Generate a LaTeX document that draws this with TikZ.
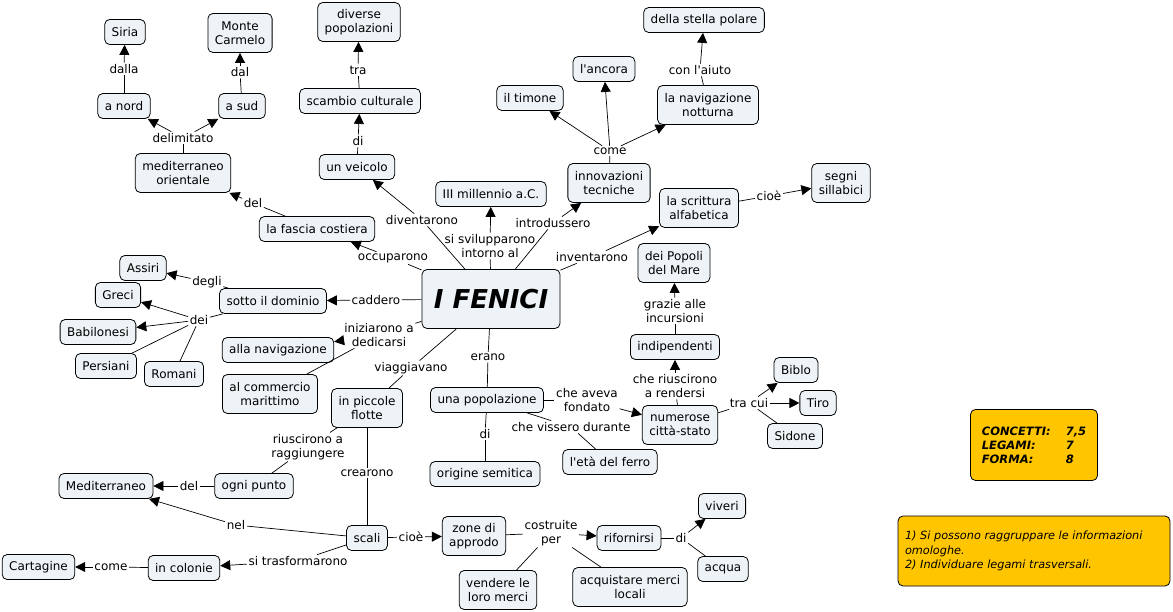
\documentclass[tikz,border=0pt]{standalone}
\usepackage{fontspec}
\setmainfont{DejaVu Sans}
\usetikzlibrary{arrows.meta}
\definecolor{cfill}{RGB}{237,243,246}
\definecolor{orng}{RGB}{255,198,0}
\newcommand{\apos}{\textquotesingle}
\begin{document}
\begin{tikzpicture}[x=1pt,y=-1pt,
 concept/.style={draw, line width=0.8pt, rounded corners=5pt, fill=cfill, align=center,
   font=\fontsize{12}{14}\selectfont, inner xsep=7pt, inner ysep=2pt, minimum height=25pt},
 two/.style={minimum height=39pt},
 lbl/.style={align=center, font=\fontsize{12}{14}\selectfont, inner sep=1.5pt},
 link/.style={line width=0.7pt},
 arr/.style={link, -{Triangle[length=10pt,width=10pt]}}]
\useasboundingbox (0,0) rectangle (1173,612);
% concepts
\node[concept, minimum width=138pt, minimum height=59pt, font=\fontsize{26}{28}\selectfont\bfseries\itshape] (fen) at (491,299) {I FENICI};
\node[concept] (siria) at (125,32) {Siria};
\node[concept,two] (monte) at (240,33) {Monte\\Carmelo};
\node[concept,two] (divpop) at (359,22) {diverse\\popolazioni};
\node[concept] (nord) at (124,106) {a nord};
\node[concept] (sud) at (242,106) {a sud};
\node[concept] (scambio) at (360,101) {scambio culturale};
\node[concept,two] (medor) at (183,173) {mediterraneo\\orientale};
\node[concept] (veicolo) at (357,167) {un veicolo};
\node[concept] (fascia) at (317,229) {la fascia costiera};
\node[concept] (stella) at (704,20) {della stella polare};
\node[concept] (ancora) at (604,69) {l\apos ancora};
\node[concept] (timone) at (530,98) {il timone};
\node[concept,two] (navnot) at (708,105) {la navigazione\\notturna};
\node[concept,two] (innov) at (609,183) {innovazioni\\tecniche};
\node[concept] (mill) at (491,194) {III millennio a.C.};
\node[concept,two] (segni) at (841,183) {segni\\sillabici};
\node[concept,two] (scritt) at (699,208) {la scrittura\\alfabetica};
\node[concept,two] (popoli) at (674,263) {dei Popoli\\del Mare};
\node[concept] (assiri) at (143,268) {Assiri};
\node[concept] (greci) at (118,295) {Greci};
\node[concept] (babil) at (98,332) {Babilonesi};
\node[concept] (persiani) at (106,366) {Persiani};
\node[concept] (romani) at (174,374) {Romani};
\node[concept] (dominio) at (273,301) {sotto il dominio};
\node[concept] (allanav) at (278,350) {alla navigazione};
\node[concept,two] (commercio) at (270,394) {al commercio\\marittimo};
\node[concept,two] (flotte) at (367,408) {in piccole\\flotte};
\node[concept] (popol) at (487,400) {una popolazione};
\node[concept] (indip) at (675,347) {indipendenti};
\node[concept,two] (numerose) at (680,425) {numerose\\città-stato};
\node[concept] (biblo) at (796,370) {Biblo};
\node[concept] (tiro) at (818,403) {Tiro};
\node[concept] (sidone) at (795,436) {Sidone};
\node[concept] (origine) at (485,474) {origine semitica};
\node[concept] (ferro) at (610,462) {l\apos età del ferro};
\node[concept] (mediter) at (106,486) {Mediterraneo};
\node[concept] (ognipunto) at (254,486) {ogni punto};
\node[concept] (scali) at (367,538) {scali};
\node[concept,two] (zone) at (474,536) {zone di\\approdo};
\node[concept] (cartagine) at (38.5,567) {Cartagine};
\node[concept] (colonie) at (184,568) {in colonie};
\node[concept] (rifornirsi) at (629,538) {rifornirsi};
\node[concept] (viveri) at (722,506) {viveri};
\node[concept] (acqua) at (723,569) {acqua};
\node[concept,two] (vendere) at (498,590) {vendere le\\loro merci};
\node[concept,two] (acquistare) at (630,587) {acquistare merci\\locali};
\node[concept, fill=orng, minimum width=127pt, minimum height=71pt, align=left,
  font=\fontsize{11.5}{14}\selectfont\bfseries\itshape] (score) at (1034,445)
  {\makebox[84pt][l]{CONCETTI:}7,5\\\makebox[84pt][l]{LEGAMI:}7\\\makebox[84pt][l]{FORMA:}8};
\node[concept, fill=orng, minimum width=272pt, minimum height=70pt, align=left,
  font=\fontsize{11.3}{14.5}\selectfont\itshape] (notes) at (1034,551)
  {\makebox[258pt][l]{1) Si possono raggruppare le informazioni}\\omologhe.\\2) Individuare legami trasversali.};
% labels
\node[lbl] (Locc) at (393,258) {occuparono};
\node[lbl] (Ldiv) at (422,220) {diventarono};
\node[lbl] (Lsvil) at (490,246) {si svilupparono\\intorno al};
\node[lbl] (Lintr) at (553,223) {introdussero};
\node[lbl] (Linv) at (592,257) {inventarono};
\node[lbl] (Lcadd) at (376,300) {caddero};
\node[lbl] (Liniz) at (379,335) {iniziarono a\\dedicarsi};
\node[lbl] (Lviag) at (411,368) {viaggiavano};
\node[lbl] (Lerano) at (488,357) {erano};
\node[lbl] (Ldi1) at (485,434) {di};
\node[lbl] (Lviss) at (571,427) {che vissero durante};
\node[lbl] (Lfond) at (587,400) {che aveva\\fondato};
\node[lbl] (Lriusc) at (675,386) {che riuscirono\\a rendersi};
\node[lbl] (Lgrazie) at (675,311) {grazie alle\\incursioni};
\node[lbl] (Ltracui) at (749,403) {tra cui};
\node[lbl] (Lragg) at (308,447) {riuscirono a\\raggiungere};
\node[lbl] (Lcrea) at (367,473) {crearono};
\node[lbl] (Ldel2) at (189,486) {del};
\node[lbl] (Lnel) at (236,525) {nel};
\node[lbl] (Lcioe2) at (411,537) {cioè};
\node[lbl] (Ltrasf) at (298,561) {si trasformarono};
\node[lbl] (Lcome2) at (111,567) {come};
\node[lbl] (Lcostr) at (551,533) {costruite\\per};
\node[lbl] (Ldi3) at (681,538) {di};
\node[lbl] (Ldegli) at (207,282) {degli};
\node[lbl] (Ldei) at (199,320) {dei};
\node[lbl] (Lcome1) at (610,151) {come};
\node[lbl] (Laiuto) at (700,70) {con l\apos aiuto};
\node[lbl] (Lcioe1) at (769,196) {cioè};
\node[lbl] (Ldel1) at (253,203) {del};
\node[lbl] (Ldelim) at (183,138) {delimitato};
\node[lbl] (Ldalla) at (124,69) {dalla};
\node[lbl] (Ldal) at (240,72) {dal};
\node[lbl] (Ltra) at (358,70) {tra};
\node[lbl] (Ldi2) at (358,141) {di};
% connectors
\draw[link] (fen) -- (Locc); \draw[arr] (Locc) -- (fascia);
\draw[link] (fen) -- (Ldiv); \draw[arr] (Ldiv) -- (veicolo);
\draw[link] (fen) -- (Lsvil); \draw[arr] (Lsvil) -- (mill);
\draw[link] (fen) -- (Lintr); \draw[arr] (Lintr) -- (innov);
\draw[link] (fen) -- (Linv); \draw[arr] (Linv) -- (scritt);
\draw[link] (fen) -- (Lcadd); \draw[arr] (Lcadd) -- (dominio);
\draw[link] (fen) -- (Liniz); \draw[arr] (Liniz) -- (allanav); \draw[link] (Liniz) -- (commercio);
\draw[link] (fen) -- (Lviag); \draw[link] (Lviag) -- (flotte);
\draw[link] (fen) -- (Lerano); \draw[link] (Lerano) -- (popol);
\draw[link] (popol) -- (Ldi1); \draw[link] (Ldi1) -- (origine);
\draw[link] (popol) -- (Lviss); \draw[link] (Lviss) -- (ferro);
\draw[link] (popol) -- (Lfond); \draw[arr] (Lfond) -- (numerose);
\draw[link] (numerose) -- (Lriusc); \draw[arr] (Lriusc) -- (indip);
\draw[link] (indip) -- (Lgrazie); \draw[arr] (Lgrazie) -- (popoli);
\draw[link] (numerose) -- (Ltracui); \draw[arr] (Ltracui) -- (biblo); \draw[arr] (Ltracui) -- (tiro); \draw[link] (Ltracui) -- (sidone);
\draw[link] (flotte) -- (Lragg); \draw[link] (Lragg) -- (ognipunto);
\draw[link] (ognipunto) -- (Ldel2); \draw[arr] (Ldel2) -- (mediter);
\draw[link] (flotte) -- (Lcrea); \draw[link] (Lcrea) -- (scali);
\draw[link] (scali) -- (Lnel); \draw[arr] (Lnel) -- (mediter);
\draw[link] (scali) -- (Ltrasf); \draw[arr] (Ltrasf) -- (colonie);
\draw[link] (colonie) -- (Lcome2); \draw[arr] (Lcome2) -- (cartagine);
\draw[link] (scali) -- (Lcioe2); \draw[arr] (Lcioe2) -- (zone);
\draw[link] (zone) -- (Lcostr); \draw[arr] (Lcostr) -- (rifornirsi); \draw[link] (Lcostr) -- (vendere); \draw[link] (Lcostr) -- (acquistare);
\draw[link] (rifornirsi) -- (Ldi3); \draw[arr] (Ldi3) -- (viveri); \draw[link] (Ldi3) -- (acqua);
\draw[link] (dominio) -- (Ldegli); \draw[arr] (Ldegli) -- (assiri);
\draw[link] (dominio) -- (Ldei); \draw[arr] (Ldei) -- (greci); \draw[arr] (Ldei) -- (babil); \draw[link] (Ldei) -- (persiani); \draw[link] (Ldei) -- (romani);
\draw[link] (innov) -- (Lcome1); \draw[arr] (Lcome1) -- (timone); \draw[arr] (Lcome1) -- (ancora); \draw[arr] (Lcome1) -- (navnot);
\draw[link] (navnot) -- (Laiuto); \draw[arr] (Laiuto) -- (stella);
\draw[link] (scritt) -- (Lcioe1); \draw[arr] (Lcioe1) -- (segni);
\draw[link] (fascia) -- (Ldel1); \draw[arr] (Ldel1) -- (medor);
\draw[link] (medor) -- (Ldelim); \draw[arr] (Ldelim) -- (nord); \draw[arr] (Ldelim) -- (sud);
\draw[link] (nord) -- (Ldalla); \draw[arr] (Ldalla) -- (siria);
\draw[link] (sud) -- (Ldal); \draw[arr] (Ldal) -- (monte);
\draw[link] (veicolo) -- (Ldi2); \draw[arr] (Ldi2) -- (scambio);
\draw[link] (scambio) -- (Ltra); \draw[arr] (Ltra) -- (divpop);
\end{tikzpicture}
\end{document}
